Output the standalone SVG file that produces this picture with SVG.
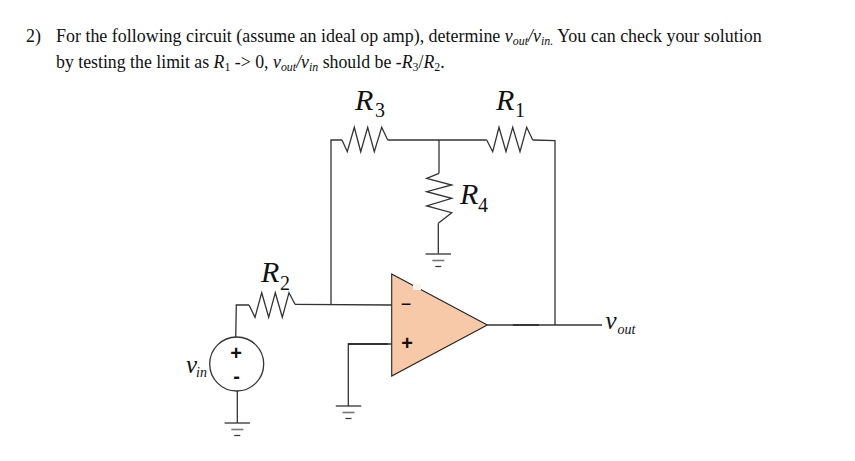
<svg xmlns="http://www.w3.org/2000/svg" width="855" height="461" viewBox="0 0 855 461">
<style>
text{font-family:"Liberation Serif","Times New Roman",serif;fill:#111}
.t{font-size:17.95px}
.i{font-style:italic}
.s{font-size:11.9px}
.R{font-size:30px;font-style:italic}
.n{font-size:20px}
.w{fill:none;stroke:#333;stroke-width:1.3;stroke-linejoin:miter}
.g1{stroke:#222;stroke-width:1.2}
.g2{stroke:#777;stroke-width:1.6}
.g3{stroke:#333;stroke-width:1.2}
.b{font-family:"Liberation Sans",Arial,sans-serif;font-weight:bold;font-size:20px;fill:#111}
</style>
<defs>
<g id="gnd">
<line class="g1" x1="-12.7" y1="0" x2="12.7" y2="0"/>
<line class="g2" x1="-6" y1="6.500" x2="6" y2="6.500"/>
<line class="g3" x1="-3" y1="12.500" x2="3" y2="12.500"/>
</g>
</defs>
<g id="caption">
<text class="t" x="26" y="42">2)</text>
<text class="t" x="56" y="42">For the following circuit (assume an ideal op amp), determine <tspan class="i">v</tspan><tspan class="i s" dy="3">out</tspan><tspan class="i" dy="-3">/v</tspan><tspan class="i s" dy="3">in.</tspan><tspan dy="-3" dx="4">You can check your solution</tspan></text>
<text class="t" x="56" y="68" style="font-size:17.8px">by testing the limit as <tspan class="i">R</tspan><tspan class="s" dy="3">1</tspan><tspan dy="-3"> -&gt; 0, </tspan><tspan class="i">v</tspan><tspan class="i s" dy="3">out</tspan><tspan class="i" dy="-3">/v</tspan><tspan class="i s" dy="3">in</tspan><tspan dy="-3"> should be -</tspan><tspan class="i">R</tspan><tspan class="s" dy="3">3</tspan><tspan dy="-3">/</tspan><tspan class="i">R</tspan><tspan class="s" dy="3">2</tspan><tspan dy="-3">.</tspan></text>
</g>
<g id="connectors">
<path class="w" d="M331 305V140H342"/>
<path class="w" d="M387.700 140H486.700"/>
<path class="w" d="M532.700 140L555 140.700V325"/>
<path class="w" d="M439 140V173.300"/>
<path class="w" d="M438.300 223.300V253.500"/>
<path class="w" d="M235.700 338.300L236.300 305H249"/>
<path class="w" d="M295 304.300L391.700 305"/>
<path class="w" d="M237.300 390V422.700"/>
<path class="w" d="M391.700 344H348.300V406"/>
<path class="w" d="M487.300 325H602"/>
<path d="M513 325H539" stroke="#222" stroke-width="1.4" fill="none"/>
<path d="M348 344H388" stroke="#222" stroke-width="1.4" fill="none"/>
</g>
<g id="R3">
<path class="w" d="M342 140L347.300 151.700L354.300 127.300L360.700 151.700L367.700 127.300L374.300 151.700L381.700 127.300L387.700 140"/>
<text class="R" x="355" y="110">R</text><text class="n" x="375" y="117">3</text>
</g>
<g id="R1">
<path class="w" d="M486.700 140L492.700 151.700L499 127.300L506 151.700L512.700 127.300L520 151.700L526.700 127.300L532.700 140"/>
<text class="R" x="496" y="110">R</text><text class="n" x="515" y="117">1</text>
</g>
<g id="R4">
<path class="w" d="M439 173.300L426.700 178.300L451.700 185L426.700 191.700L451.700 198.300L426.700 206L451.700 212.700L438.300 223.300"/>
<text class="R" x="460" y="204">R</text><text class="n" x="478" y="212">4</text>
<use href="#gnd" x="438.300" y="254"/>
</g>
<g id="R2">
<path class="w" d="M249 305L255 317.300L261.700 292.700L268.700 317.300L275.300 292.700L282.300 317.300L289 292.700L295 304.300"/>
<text class="R" x="261" y="282">R</text><text class="n" x="280" y="290">2</text>
</g>
<g id="vin">
<circle cx="236.700" cy="364" r="27" fill="#fff" stroke="#333" stroke-width="1.3"/>
<text class="b" x="236" y="359.500" text-anchor="middle">+</text>
<text class="b" x="236.500" y="382.500" text-anchor="middle">-</text>
<text class="R" x="186" y="373" style="font-size:25px">v</text><text class="i s" x="196" y="377" style="font-size:14px">in</text>
<use href="#gnd" x="237.300" y="423"/>
</g>
<g id="gnd-plus">
<use href="#gnd" x="348.500" y="406"/>
</g>
<g id="opamp">
<path d="M391.700 274L487.300 325L391.700 376Z" fill="#f7c9a9" stroke="#222" stroke-width="1.1"/>
<rect x="413" y="284" width="8" height="6" fill="#fdf2ea"/>
<text class="b" x="406" y="310" text-anchor="middle" style="font-weight:normal;font-size:18px">−</text>
<text class="b" x="407" y="349.500" text-anchor="middle">+</text>
</g>
<g id="vout">
<text class="R" x="605.500" y="329" style="font-size:25px">v</text><text class="i s" x="617.500" y="334" style="font-size:14px">out</text>
</g>
</svg>
